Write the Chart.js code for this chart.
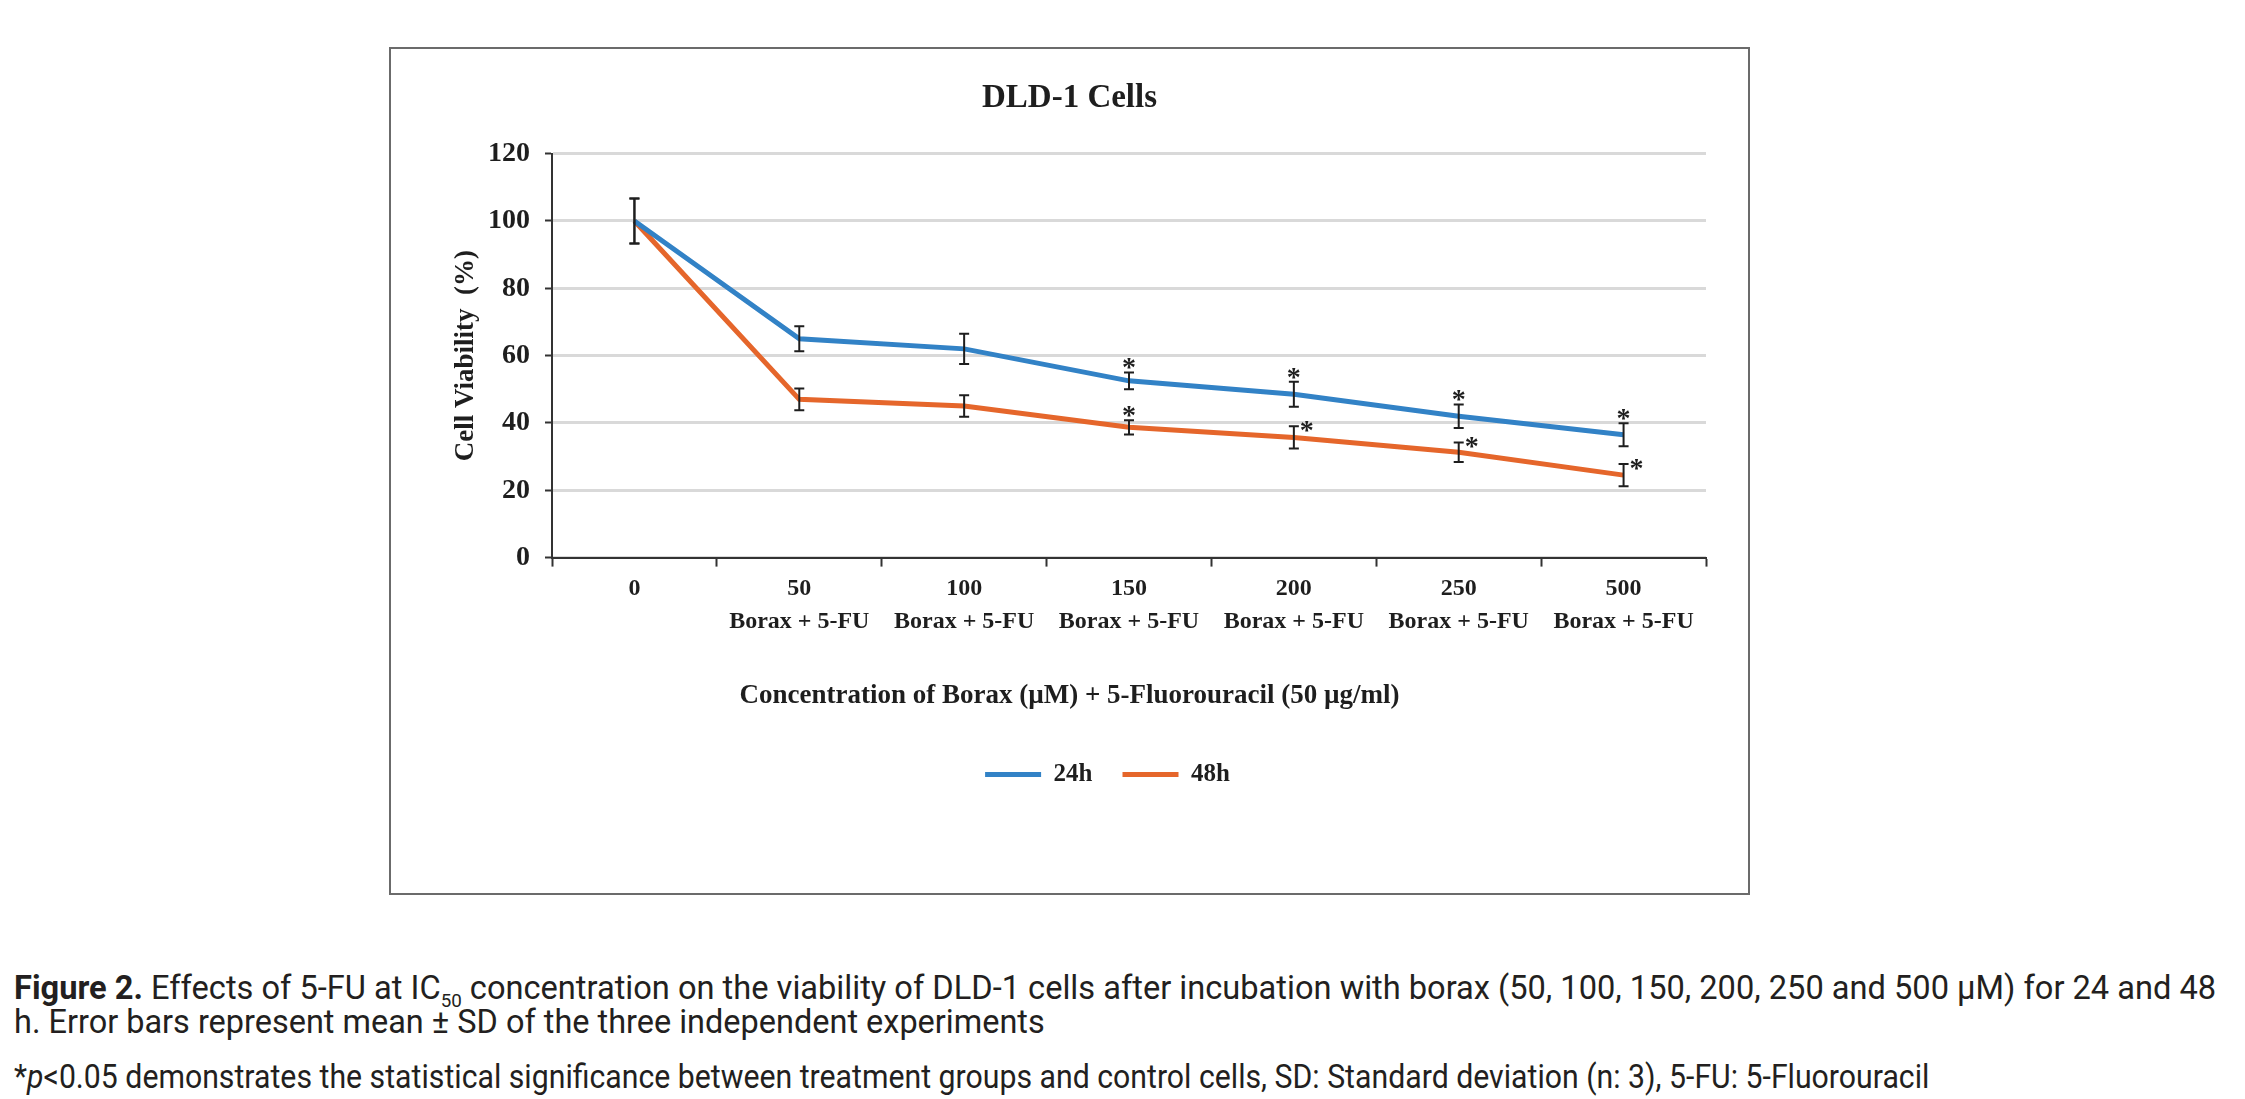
<!DOCTYPE html>
<html>
<head>
<meta charset="utf-8">
<script src="https://cdn.jsdelivr.net/npm/chart.js@4.4.1/dist/chart.umd.min.js"></script>
<style>
    html, body { margin: 0; padding: 0; background: #fff; }
    body { width: 2245px; height: 1099px; position: relative; overflow: hidden; }
    #box {
        position: absolute; left: 389px; top: 47px;
        width: 1357px; height: 844px;
        border: 2px solid #6b6b6b;
        background: #fff;
    }
    #chart { display: block; }
    .cap {
        position: absolute; left: 14px;
        font-family: Roboto, "Noto Sans", sans-serif;
        font-size: 33px; line-height: 34px; color: #231f20;
        white-space: nowrap; display: inline-block;
        transform-origin: left center;
    }
    .cap b { font-weight: 700; }
    .cap sub { font-size: 19px; vertical-align: -8px; line-height: 0; }
</style>
</head>
<body>
<div id="box"><canvas id="chart" width="1357" height="844"></canvas></div>

<span class="cap" data-w="2202" style="top:971px"><b>Figure 2.</b> Effects of 5-FU at IC<sub>50</sub> concentration on the viability of DLD-1 cells after incubation with borax (50, 100, 150, 200, 250 and 500 µM) for 24 and 48</span>
<span class="cap" data-w="1031" style="top:1005px">h. Error bars represent mean ± SD of the three independent experiments</span>
<span class="cap" data-w="1915" style="top:1060px">*<i>p</i>&lt;0.05 demonstrates the statistical significance between treatment groups and control cells, SD: Standard deviation (n: 3), 5-FU: 5-Fluorouracil</span>

<script>
// Data
const doses = ['0', '50', '100', '150', '200', '250', '500'];
const viability24 = [100, 65, 62, 52.5, 48.5, 42, 36.5];
const sd24 = [6.7, 3.7, 4.5, 2.5, 3.7, 3.5, 3.4];
const viability48 = [100, 47, 45, 38.7, 35.7, 31.3, 24.5];
const sd48 = [6.7, 3.2, 3.2, 2.1, 3.3, 2.9, 3.3];
// where the significance star sits: 'top' above the bar, 'right' beside it
const sig24 = [null, null, null, 'top', 'top', 'top', 'top'];
const sig48 = [null, null, null, 'top', 'right', 'right', 'right'];
const yTicks = [0, 20, 40, 60, 80, 100, 120];

const serif = 'Liberation Serif, Times New Roman, serif';
const ink = '#1e1e1e';

// Category labels: dose on first line, treatment below
const xLabels = doses.map(d => d === '0' ? ['0'] : [d, 'Borax + 5-FU']);

// Error bars + asterisks
const errorBars = {
    id: 'errorBars',
    afterDatasetsDraw(chart) {
        const ctx = chart.ctx;
        const yScale = chart.scales.y;
        ctx.save();
        ctx.strokeStyle = ink;
        ctx.fillStyle = ink;
        ctx.lineWidth = 2;
        ctx.font = 'bold 28px ' + serif;
        ctx.textAlign = 'center';
        ctx.textBaseline = 'alphabetic';
        chart.data.datasets.forEach((ds, i) => {
            const meta = chart.getDatasetMeta(i);
            meta.data.forEach((pt, j) => {
                const x = pt.x;
                const hi = yScale.getPixelForValue(ds.data[j] + ds.sd[j]);
                const lo = yScale.getPixelForValue(ds.data[j] - ds.sd[j]);
                ctx.beginPath();
                ctx.moveTo(x, hi); ctx.lineTo(x, lo);
                ctx.moveTo(x - 5, hi); ctx.lineTo(x + 5, hi);
                ctx.moveTo(x - 5, lo); ctx.lineTo(x + 5, lo);
                ctx.stroke();
                const s = ds.sig[j];
                if (s === 'top') ctx.fillText('*', x, hi + 4);
                if (s === 'right') ctx.fillText('*', x + 13, hi + 13);
            });
        });
        ctx.restore();
    }
};

// legend in the reference sits a little right of the figure centre
const legendNudge = {
    id: 'legendNudge',
    afterLayout(chart) {
        chart.legend.left += 38;
        chart.legend.right += 38;
    }
};

new Chart(document.getElementById('chart'), {
    type: 'line',
    data: {
        labels: xLabels,
        datasets: [
            {
                label: '24h',
                data: viability24,
                sd: sd24,
                sig: sig24,
                borderColor: '#3282c6',
                backgroundColor: '#3282c6',
                borderWidth: 5,
                pointRadius: 0,
                tension: 0
            },
            {
                label: '48h',
                data: viability48,
                sd: sd48,
                sig: sig48,
                borderColor: '#e5662b',
                backgroundColor: '#e5662b',
                borderWidth: 5,
                pointRadius: 0,
                tension: 0
            }
        ]
    },
    options: {
        responsive: false,
        animation: false,
        layout: { padding: { top: 30, right: 42, bottom: 96, left: 42 } },
        plugins: {
            title: {
                display: true,
                text: 'DLD-1 Cells',
                color: ink,
                font: { family: serif, size: 33, weight: 'bold' },
                padding: { top: 0, bottom: 35 }
            },
            subtitle: {
                display: true,
                position: 'bottom',
                weight: 500,
                text: 'Concentration of Borax (µM) + 5-Fluorouracil (50 µg/ml)',
                color: ink,
                font: { family: serif, size: 27, weight: 'bold' },
                padding: { top: 22, bottom: 20 }
            },
            legend: {
                position: 'bottom',
                labels: {
                    usePointStyle: true,
                    pointStyle: 'line',
                    pointStyleWidth: 56,
                    color: ink,
                    padding: 30,
                    font: { family: serif, size: 25, weight: 'bold' }
                }
            },
            tooltip: { enabled: false }
        },
        scales: {
            x: {
                offset: true,
                afterFit: s => { s.height = 100; },
                grid: {
                    offset: true,
                    drawOnChartArea: false,
                    tickLength: 9,
                    tickColor: '#333',
                    tickWidth: 2
                },
                border: { color: '#333', width: 2 },
                ticks: {
                    color: ink,
                    padding: 5,
                    maxRotation: 0,
                    autoSkip: false,
                    font: { family: serif, size: 24, weight: 'bold', lineHeight: 1.4 }
                }
            },
            y: {
                min: 0,
                max: 120,
                afterFit: s => { s.width = 119; },
                afterBuildTicks: s => { s.ticks = yTicks.map(v => ({ value: v })); },
                grid: {
                    color: '#d9d9d9',
                    lineWidth: 3,
                    tickLength: 7,
                    tickColor: '#333',
                    tickWidth: 2
                },
                border: { color: '#333', width: 2 },
                ticks: {
                    color: ink,
                    padding: 15,
                    font: { family: serif, size: 28, weight: 'bold' }
                },
                title: {
                    display: true,
                    text: 'Cell Viability  (%)',
                    color: ink,
                    font: { family: serif, size: 27, weight: 'bold' },
                    padding: { top: 17, bottom: 0 }
                }
            }
        }
    },
    plugins: [errorBars, legendNudge]
});

// Caption lines are set in a condensed face in the reference: squeeze each line to its width
document.querySelectorAll('.cap').forEach(el => {
    const target = +el.dataset.w;
    el.style.transform = 'scaleX(' + (target / el.scrollWidth) + ')';
});
</script>
</body>
</html>
